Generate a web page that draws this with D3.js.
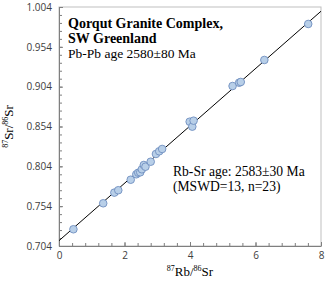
<!DOCTYPE html>
<html lang="en">
<head>
    <meta charset="UTF-8">
    <title>Qorqut Granite Rb-Sr isochron</title>
    <script src="https://d3js.org/d3.v7.min.js"></script>
    <style>
        body { margin: 0; background: #fff; }
        .tick text { font-family: "Open Sans", sans-serif; font-size: 10px; fill: #404040; }
        .serif { font-family: "Liberation Serif", serif; fill: #000; }
    </style>
</head>
<body>
    <svg width="326" height="284"></svg>
    <script>
        // 87Rb/86Sr and 87Sr/86Sr
        const rbSr = [0.44, 1.35, 1.69, 1.81, 2.19, 2.36, 2.42, 2.48, 2.53, 2.59, 2.64, 2.80, 2.96, 3.06, 3.15,
                      3.99, 4.07, 4.11, 5.30, 5.50, 5.55, 6.27, 7.61];
        const srSr = [0.725, 0.7576, 0.771, 0.774, 0.7872, 0.794, 0.796, 0.7965, 0.8003, 0.8057, 0.8035, 0.8098, 0.8195, 0.8229, 0.8258,
                      0.860, 0.8538, 0.8613, 0.9048, 0.909, 0.9099, 0.9375, 0.9827];
        const xTicks = [0, 2, 4, 6, 8];
        const yTicks = [0.704, 0.754, 0.804, 0.854, 0.904, 0.954, 1.004];
        // isochron fit
        const intercept = 0.7107;
        const slope = 0.0360;

        const margin = { top: 7, right: 5, bottom: 38, left: 59 };
        const width = 326 - margin.left - margin.right;
        const height = 284 - margin.top - margin.bottom;

        const svg = d3.select("svg");
        const g = svg.append("g").attr("transform", `translate(${margin.left},${margin.top})`);

        const x = d3.scaleLinear().domain([0, 8]).range([0, width]);
        const y = d3.scaleLinear().domain([0.704, 1.004]).range([height, 0]);

        // frame (top and right)
        g.append("rect")
            .attr("width", width).attr("height", height)
            .attr("fill", "none").attr("stroke", "#bfbfbf").attr("stroke-width", 1);

        // minor ticks
        const xMinor = d3.range(0, 8.001, 0.4);
        const yMinor = d3.range(0.704, 1.0045, 0.01);
        g.append("g").attr("transform", `translate(0,${height})`)
            .call(d3.axisBottom(x).tickValues(xMinor).tickSize(-3).tickFormat(""))
            .call(a => a.select(".domain").remove())
            .selectAll("line").attr("stroke", "#7f7f7f");
        g.append("g")
            .call(d3.axisLeft(y).tickValues(yMinor).tickSize(-3).tickFormat(""))
            .call(a => a.select(".domain").remove())
            .selectAll("line").attr("stroke", "#7f7f7f");

        // major axes
        const xAxis = g.append("g").attr("transform", `translate(0,${height})`)
            .call(d3.axisBottom(x).tickValues(xTicks).tickSizeInner(-4).tickSizeOuter(0).tickPadding(6).tickFormat(d3.format("d")));
        const yAxis = g.append("g")
            .call(d3.axisLeft(y).tickValues(yTicks).tickSizeInner(-4).tickSizeOuter(0).tickPadding(7).tickFormat(d3.format(".3f")));
        [xAxis, yAxis].forEach(a => {
            a.select(".domain").attr("stroke", "#7f7f7f");
            a.selectAll(".tick line").attr("stroke", "#7f7f7f");
        });

        // isochron line
        g.append("clipPath").attr("id", "clip")
            .append("rect").attr("width", width).attr("height", height);
        g.append("line")
            .attr("clip-path", "url(#clip)")
            .attr("x1", x(0)).attr("y1", y(intercept))
            .attr("x2", x(8)).attr("y2", y(intercept + slope * 8))
            .attr("stroke", "#000").attr("stroke-width", 1);

        // data points
        g.selectAll(".pt")
            .data(rbSr.map((v, i) => [v, srSr[i]]))
            .enter().append("circle")
            .attr("class", "pt")
            .attr("cx", d => x(d[0])).attr("cy", d => y(d[1]))
            .attr("r", 3.8)
            .attr("fill", "#b8cfe8").attr("stroke", "#6f8fbf").attr("stroke-width", 0.9);

        // annotations
        const title = g.append("text").attr("class", "serif").attr("x", 9).attr("font-size", 14);
        title.append("tspan").attr("x", 9).attr("y", 21).attr("font-weight", "bold").text("Qorqut Granite Complex,");
        title.append("tspan").attr("x", 9).attr("y", 36).attr("font-weight", "bold").text("SW Greenland");
        title.append("tspan").attr("x", 9).attr("y", 51).attr("font-size", 13.5).text("Pb-Pb age 2580±80 Ma");

        const rb = g.append("text").attr("class", "serif").attr("font-size", 13.6);
        rb.append("tspan").attr("x", 114).attr("y", 169).text("Rb-Sr age: 2583±30 Ma");
        rb.append("tspan").attr("x", 114).attr("y", 184).text("(MSWD=13, n=23)");

        // axis titles
        const xl = svg.append("text").attr("class", "serif").attr("font-size", 13)
            .attr("text-anchor", "middle")
            .attr("x", margin.left + width / 2).attr("y", 276);
        xl.append("tspan").attr("font-size", 8).attr("dy", -5).text("87");
        xl.append("tspan").attr("dy", 5).text("Rb/");
        xl.append("tspan").attr("font-size", 8).attr("dy", -5).text("86");
        xl.append("tspan").attr("dy", 5).text("Sr");

        const yl = svg.append("text").attr("class", "serif").attr("font-size", 13)
            .attr("text-anchor", "middle")
            .attr("transform", `translate(13,${margin.top + height / 2}) rotate(-90)`);
        yl.append("tspan").attr("font-size", 8).attr("dy", -5).text("87");
        yl.append("tspan").attr("dy", 5).text("Sr/");
        yl.append("tspan").attr("font-size", 8).attr("dy", -5).text("86");
        yl.append("tspan").attr("dy", 5).text("Sr");
    </script>
</body>
</html>
